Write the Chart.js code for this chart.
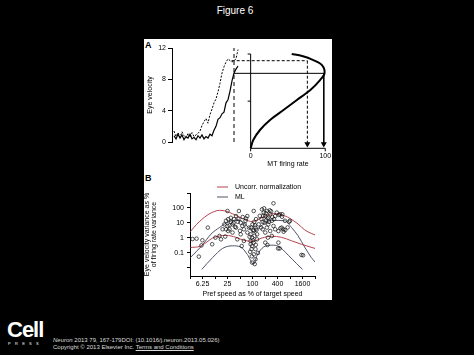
<!DOCTYPE html>
<html>
<head>
<meta charset="utf-8">
<script src="https://cdn.jsdelivr.net/npm/chart.js@4.4.0/dist/chart.umd.min.js"></script>
<style>
html, body { margin: 0; padding: 0; background: #000; }
#stage { position: relative; width: 474px; height: 355px; overflow: hidden; background: #000; font-family: "Liberation Sans", Arial, sans-serif; }
#title { position: absolute; left: 0; top: 5px; width: 470px; text-align: center; color: #fff; font-size: 10px; }
#panel { position: absolute; left: 144px; top: 39px; width: 188px; height: 261px; background: #fff; }
.tag { position: absolute; font-weight: bold; font-size: 9px; color: #000; }
canvas { position: absolute; }
#logo { position: absolute; left: 7px; top: 317px; color: #fff; font-weight: bold; font-size: 22px; letter-spacing: -1px; }
#press { position: absolute; left: 8px; top: 341px; color: #fff; font-size: 4px; letter-spacing: 4.3px; }
.foot { position: absolute; left: 53px; color: #ddd; font-size: 6px; white-space: nowrap; }
</style>
</head>
<body>
<div id="stage">
  <div id="title">Figure 6</div>
  <div id="panel"></div>
  <div class="tag" style="left:145px;top:40px">A</div>
  <div class="tag" style="left:145px;top:173px">B</div>
  <canvas id="eyeChart" width="96" height="112" style="left:144px;top:40px"></canvas>
  <canvas id="rateChart" width="120" height="130" style="left:222px;top:44px"></canvas>
  <canvas id="varChart" width="195" height="128" style="left:140px;top:172px"></canvas>
  <div id="logo">Cell</div>
  <div id="press">PRESS</div>
  <div class="foot" style="top:337px"><i>Neuron</i> 2013 79, 167-179DOI: (10.1016/j.neuron.2013.05.026)</div>
  <div class="foot" style="top:344px">Copyright © 2013 Elsevier Inc. <u>Terms and Conditions</u></div>
</div>
<script>
// ---- panel A, left: eye velocity traces (ms, 10 ms bins)
var traceTime = [0, 10, 20, 30, 40, 50, 60, 70, 80, 90, 100, 110, 120, 130, 140, 150, 160,
                 170, 180, 190, 200, 210, 220, 230, 240, 250, 260, 270, 280, 290, 300, 310, 320];
var eyeSolid = [0.8, 0.4, 1.0, 0.5, 0.9, 0.3, 0.7, 0.5, 1.0, 0.4, 0.6, 0.3, 0.8, 0.5, 0.9, 0.4, 0.7,
                0.5, 1.0, 0.8, 1.5, 2.0, 2.9, 3.1, 3.6, 3.8, 5.0, 5.4, 6.5, 7.8, 8.8, 9.3, 9.7];
var eyeDashed = [1.4, 0.7, 1.2, 0.6, 1.3, 0.8, 0.5, 1.1, 0.6, 1.2, 0.7, 0.9, 1.1, 1.4, 2.1, 2.6, 3.0,
                 2.4, 3.5, 4.2, 5.0, 5.5, 6.4, 7.5, 8.8, 9.6, 10.2, 10.6, 10.4, 10.2, 10.4, 10.6, 11.8];
var readTime = 300;
var eyeTicks = [0, 4, 8, 12];

// ---- panel A, right: MT population response vs firing rate
var tuneRate = [0, 3.5, 12.5, 26, 44, 62, 80, 93, 99, 95.6, 84, 69, 55];
var tuneLevel = [0, 0.088, 0.194, 0.30, 0.406, 0.512, 0.618, 0.724, 0.795, 0.883, 0.936, 0.979, 1.0];
var readLevel = [0.795, 0.929];   // solid, dashed
var readRate = [98, 76];
var readStart = [-22.3, -25.4];
var arrowEnd = 0.045;

// ---- panel B
var xTicksB = [3.125, 6.25, 12.5, 25, 50, 100, 200, 400, 800, 1600, 3200];
var xLabelsB = [6.25, 25, 100, 400, 1600];
var yTicksB = [0.01, 0.1, 1, 10, 100, 1000];
var yLabelsB = [0.1, 1, 10, 100];

var uncorrHiX = [3.2, 4.5, 6, 8.5, 12, 16, 21, 28, 40, 57, 80, 100, 130, 170, 230, 320, 450, 600, 800, 1250, 1800, 2600, 3200];
var uncorrHiY = [2.7, 8, 17, 36, 58, 70, 65, 50, 32, 20, 14, 12, 16, 23, 33, 42, 38, 30, 20, 8.5, 3.5, 2.0, 1.6];
var uncorrLoX = [3.2, 5.5, 7.7, 11, 16, 23, 40, 62, 100, 170, 290, 500, 870, 1500, 3200];
var uncorrLoY = [0.23, 0.28, 0.5, 1.0, 1.35, 1.5, 1.1, 0.7, 0.6, 1.0, 1.3, 1.1, 0.65, 0.38, 0.2];
var mlHiX = [3.2, 6, 10, 16, 27, 45, 75, 105, 170, 290, 600, 870, 1250, 1800, 2600, 3200];
var mlHiY = [0.05, 0.3, 1.8, 5, 12, 16, 6, 2.5, 7, 15, 14, 5, 1.4, 0.25, 0.05, 0.025];
var mlLoX = [6, 11, 19, 33, 52, 75, 107, 129, 186, 292, 421, 730, 1140, 1600];
var mlLoY = [0.008, 0.05, 0.2, 0.3, 0.25, 0.08, 0.018, 0.07, 0.25, 0.33, 0.28, 0.07, 0.02, 0.008];

var cellSpeed = [4.5, 3.6, 5.9, 5.1, 8.4, 10.7, 12.8, 16, 17.4, 22, 25, 6.2,
  23, 26, 30, 21, 25, 33, 28, 23, 36, 40, 33, 26, 19, 40, 47, 46, 52, 57, 62, 68, 75, 52, 43, 62, 55, 75, 82,
  30, 35, 44, 58, 65, 28, 38, 50, 70,
  90, 98, 107, 118, 90, 107, 98, 118, 129, 95, 107, 118, 98, 113, 90, 129, 122, 107, 141,
  100, 110, 93, 125, 85, 112, 102, 120, 88, 96, 135, 104, 115,
  169, 186, 203, 222, 164, 196, 244, 267, 292, 222, 176, 203, 267, 320, 351, 384, 461, 523,
  292, 235, 203, 351, 421, 505, 553, 606, 320, 180, 210, 250, 160, 150, 230, 280, 190, 240, 300, 330, 260, 210, 175,
  796, 1650, 421, 450, 700, 430, 514, 469, 562, 615, 762, 414, 1510, 229];
var cellVar = [0.90, 0.85, 0.32, 0.057, 4.9, 0.38, 1.05, 1.36, 0.81, 1.23, 63, 0.7,
  14, 18, 12, 8.1, 6.3, 8.1, 3.8, 3.8, 18, 4.9, 2.3, 2.9, 3.8, 29, 63, 18, 10.5, 6.3, 3.8, 14, 2.3, 1.75, 0.81, 0.63, 0.29, 29, 4.9,
  22, 10, 12, 25, 8, 7, 5.5, 3, 20,
  1.75, 1.05, 2.9, 4.9, 0.63, 0.49, 0.29, 0.18, 0.81, 0.18, 0.081, 0.038, 0.023, 0.018, 0.38, 1.75, 18, 63, 8.1,
  8, 12, 5, 3.5, 1.2, 1.4, 0.7, 0.35, 0.12, 0.06, 0.1, 3.5, 7,
  81, 49, 29, 63, 18, 10.5, 23, 38, 14, 4.9, 3.8, 2.3, 2.9, 6.3, 29, 49, 38, 38,
  1.36, 1.05, 0.49, 3.8, 2.9, 4.9, 3.8, 14, 205, 30, 45, 12, 5, 30, 20, 60, 95, 8, 25, 18, 70, 15, 12,
  14, 0.07, 0.49, 0.2, 5, 34, 26, 4.4, 2.6, 3.4, 12, 0.2, 0.074, 0.34];

Chart.defaults.font.family = '"Liberation Sans", Arial, sans-serif';
Chart.defaults.font.size = 7;
Chart.defaults.color = '#000';

function pairs(xs, ys) {
  return xs.map(function (v, i) { return {x: v, y: ys[i]}; });
}

// ---------------- panel A left
new Chart(document.getElementById('eyeChart'), {
  type: 'line',
  data: {
    datasets: [
      {data: pairs(traceTime, eyeSolid), borderColor: '#000', borderWidth: 1.2, pointRadius: 0, tension: 0},
      {data: pairs(traceTime, eyeDashed), borderColor: '#000', borderWidth: 1, borderDash: [2, 1.5], pointRadius: 0, tension: 0},
      {data: [{x: readTime, y: 0}, {x: readTime, y: 12}], borderColor: '#000', borderWidth: 1, borderDash: [4, 3], pointRadius: 0}
    ]
  },
  options: {
    responsive: false,
    animation: false,
    layout: {padding: {top: 8, bottom: 10, left: 0, right: 0}},
    plugins: {legend: {display: false}, tooltip: {enabled: false}},
    scales: {
      x: {type: 'linear', min: -10, max: 330, display: false},
      y: {
        min: 0, max: 12,
        afterFit: function (s) { s.width = 28; },
        afterBuildTicks: function (s) { s.ticks = eyeTicks.map(function (v) { return {value: v}; }); },
        grid: {drawOnChartArea: false, tickLength: 4, color: '#000'},
        border: {color: '#000', width: 1},
        ticks: {padding: 2},
        title: {display: true, text: 'Eye velocity', padding: {top: 1.5, bottom: 0}, font: {size: 7}}
      }
    }
  }
});

// ---------------- panel A right
var firingAxes = {
  id: 'firingAxes',
  beforeDatasetsDraw: function (chart) {
    var ctx = chart.ctx, x = chart.scales.x, y = chart.scales.y;
    var x0 = x.getPixelForValue(0), x1 = x.getPixelForValue(100);
    var yb = y.getPixelForValue(0), yt = y.getPixelForValue(1), ym = y.getPixelForValue(0.5);
    ctx.save();
    ctx.strokeStyle = '#000';
    ctx.lineWidth = 1;
    ctx.beginPath();
    ctx.moveTo(x0 - 3, yt); ctx.lineTo(x0, yt);
    ctx.lineTo(x0, yb); ctx.lineTo(x1, yb);
    ctx.moveTo(x0, ym); ctx.lineTo(x0 - 3, ym);
    ctx.moveTo(x0, yb); ctx.lineTo(x0, yb + 3);
    ctx.moveTo(x1, yb); ctx.lineTo(x1, yb + 3);
    ctx.stroke();
    ctx.fillStyle = '#000';
    ctx.font = '7px "Liberation Sans", Arial, sans-serif';
    ctx.textAlign = 'center';
    ctx.textBaseline = 'top';
    ctx.fillText('0', x0, yb + 4);
    ctx.fillText('100', x1, yb + 4);
    ctx.fillText('MT firing rate', (x0 + x1) / 2, yb + 12);
    ctx.restore();
  }
};

function arrowSet(i, dash) {
  return [
    {data: [{x: readStart[i], y: readLevel[i]}, {x: readRate[i], y: readLevel[i]}],
     borderColor: '#000', borderWidth: 1, borderDash: dash, pointRadius: 0},
    {data: [{x: readRate[i], y: readLevel[i]}, {x: readRate[i], y: arrowEnd}],
     borderColor: '#000', borderWidth: 1, borderDash: dash,
     pointRadius: [0, 3.5], pointStyle: 'triangle', pointRotation: 180,
     pointBackgroundColor: '#000', pointBorderColor: '#000', pointBorderWidth: 0}
  ];
}

new Chart(document.getElementById('rateChart'), {
  type: 'line',
  data: {
    datasets: [
      {data: pairs(tuneRate, tuneLevel), borderColor: '#000', borderWidth: 2, pointRadius: 0, tension: 0.3}
    ].concat(arrowSet(0, []), arrowSet(1, [3, 2]))
  },
  options: {
    responsive: false,
    animation: false,
    layout: {padding: {top: 10, bottom: 25.7, left: 8.5, right: 13}},
    plugins: {legend: {display: false}, tooltip: {enabled: false}},
    datasets: {line: {clip: false}},
    scales: {
      x: {type: 'linear', min: -27, max: 105, display: false},
      y: {type: 'linear', min: 0, max: 1, display: false}
    }
  },
  plugins: [firingAxes]
});

// ---------------- panel B
var legendB = {
  id: 'legendB',
  afterDraw: function (chart) {
    var ctx = chart.ctx, area = chart.chartArea;
    var items = chart.data.datasets.filter(function (d) { return d.legendText; });
    ctx.save();
    ctx.font = '7px "Liberation Sans", Arial, sans-serif';
    ctx.textBaseline = 'middle';
    items.forEach(function (d, i) {
      var x = area.left + 27, y = area.top - 6 + i * 10;
      ctx.strokeStyle = d.borderColor;
      ctx.lineWidth = 1;
      ctx.beginPath(); ctx.moveTo(x, y); ctx.lineTo(x + 11, y); ctx.stroke();
      ctx.fillStyle = '#000';
      ctx.fillText(d.legendText, x + 18, y);
    });
    ctx.restore();
  }
};

var red = '#b8434f';
var gray = '#4e5366';

new Chart(document.getElementById('varChart'), {
  type: 'line',
  data: {
    datasets: [
      {type: 'scatter', data: pairs(cellSpeed, cellVar), pointRadius: 1.8, pointBorderWidth: 0.7,
       pointBorderColor: '#111', pointBackgroundColor: 'rgba(0,0,0,0)', showLine: false},
      {data: pairs(uncorrHiX, uncorrHiY), borderColor: red, legendText: 'Uncorr. normalization'},
      {data: pairs(uncorrLoX, uncorrLoY), borderColor: red},
      {data: pairs(mlHiX, mlHiY), borderColor: gray, legendText: 'ML'},
      {data: pairs(mlLoX, mlLoY), borderColor: gray}
    ]
  },
  options: {
    responsive: false,
    animation: false,
    layout: {padding: {top: 21, right: 20, left: 0, bottom: 0}},
    plugins: {legend: {display: false}, tooltip: {enabled: false}},
    datasets: {line: {borderWidth: 1, pointRadius: 0, cubicInterpolationMode: 'monotone'}},
    scales: {
      x: {
        type: 'logarithmic', min: 3.125, max: 3200,
        afterFit: function (s) { s.height = 24; },
        afterBuildTicks: function (s) { s.ticks = xTicksB.map(function (v) { return {value: v}; }); },
        grid: {drawOnChartArea: false, tickLength: 3, color: '#000'},
        border: {color: '#000', width: 1},
        ticks: {autoSkip: false, maxRotation: 0, padding: 1,
                callback: function (v) { return xLabelsB.indexOf(v) >= 0 ? String(v) : ''; }},
        title: {display: true, text: 'Pref speed as % of target speed', padding: {top: 0, bottom: 1.8}}
      },
      y: {
        type: 'logarithmic', min: 0.0029, max: 1000,
        afterFit: function (s) { s.width = 50; },
        afterBuildTicks: function (s) { s.ticks = yTicksB.map(function (v) { return {value: v}; }); },
        grid: {drawOnChartArea: false, tickLength: 3, color: '#000'},
        border: {color: '#000', width: 1},
        ticks: {autoSkip: false, padding: 3,
                callback: function (v) { return yLabelsB.indexOf(v) >= 0 ? String(v) : ''; }},
        title: {display: true, text: ['Eye velocity variance as %', 'of firing rate variance'],
                padding: {top: 3.8, bottom: 0}, font: {size: 7, lineHeight: 1}}
      }
    }
  },
  plugins: [legendB]
});
</script>
</body>
</html>
